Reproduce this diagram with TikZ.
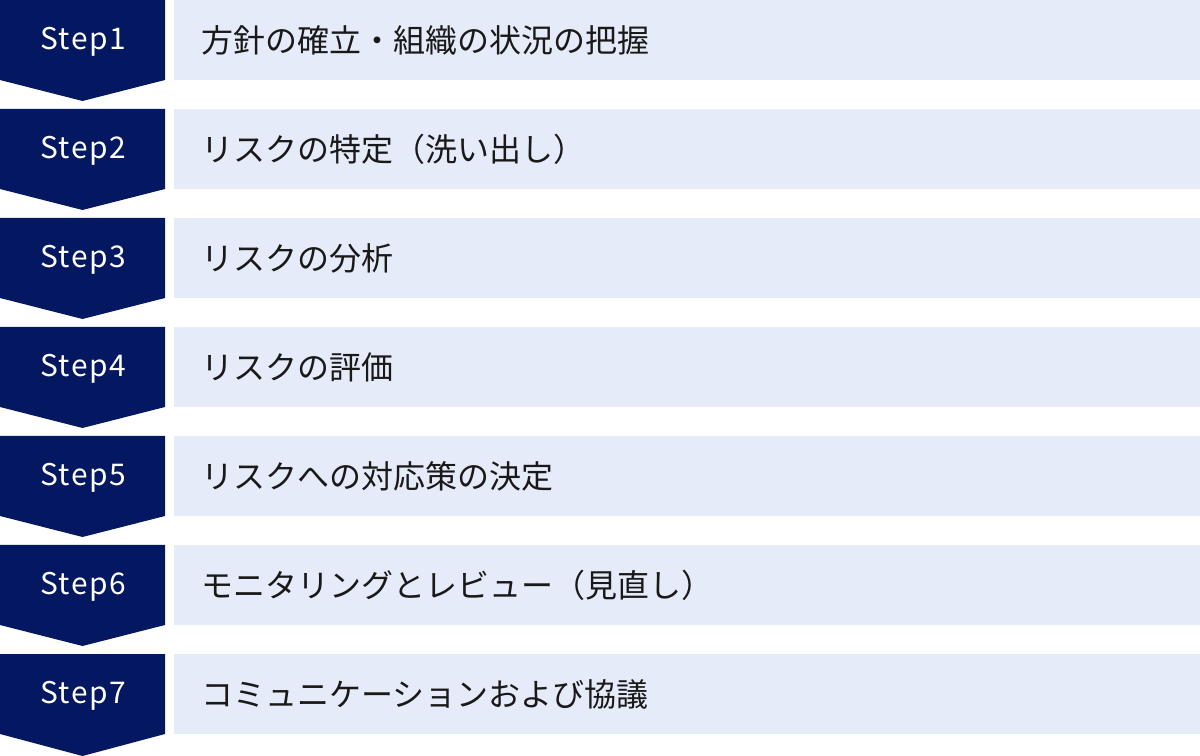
\documentclass[tikz,border=0pt]{standalone}
\usepackage{fontspec}
\newfontfamily\jpfont{Noto Sans CJK JP}
\newfontfamily\stepfont[LetterSpace=5]{Noto Sans CJK JP}
\usepackage{xcolor}
\definecolor{stepnavy}{HTML}{041862}
\definecolor{barblue}{HTML}{E5EBF8}

\begin{document}
\begin{tikzpicture}[x = 0.02cm, y = -0.02cm]
				    \tikzstyle{chevron}=[fill=stepnavy]
				    \tikzstyle{bar}=[fill=barblue]
				    \tikzstyle{steplabel}=[text=white,font=\stepfont\fontsize{17}{20}\selectfont]
				    \tikzstyle{item}=[anchor=west,inner sep=0pt,text=black!90,font=\jpfont\fontsize{18.2}{22}\selectfont]
				    \useasboundingbox (0,0) rectangle (1200,756);
				    \fill[chevron] (0,0) -- (165,0) -- (165,80) -- (82.5,101) -- (0,80) -- cycle;
				    \fill[chevron] (0,109) -- (165,109) -- (165,189) -- (82.5,210) -- (0,189) -- cycle;
				    \fill[chevron] (0,218) -- (165,218) -- (165,298) -- (82.5,319) -- (0,298) -- cycle;
				    \fill[chevron] (0,327) -- (165,327) -- (165,407) -- (82.5,428) -- (0,407) -- cycle;
				    \fill[chevron] (0,436) -- (165,436) -- (165,516) -- (82.5,537) -- (0,516) -- cycle;
				    \fill[chevron] (0,545) -- (165,545) -- (165,625) -- (82.5,646) -- (0,625) -- cycle;
				    \fill[chevron] (0,654) -- (165,654) -- (165,734) -- (82.5,756) -- (0,734) -- cycle;
				    \fill[bar] (174,0) rectangle (1200,80);
				    \fill[bar] (174,109) rectangle (1200,189);
				    \fill[bar] (174,218) rectangle (1200,298);
				    \fill[bar] (174,327) rectangle (1200,407);
				    \fill[bar] (174,436) rectangle (1200,516);
				    \fill[bar] (174,545) rectangle (1200,625);
				    \fill[bar] (174,654) rectangle (1200,734);
				    \node[steplabel] (s1) at (83,42) {Step1};
				    \node[steplabel] (s2) at (83,151) {Step2};
				    \node[steplabel] (s3) at (83,260) {Step3};
				    \node[steplabel] (s4) at (83,369) {Step4};
				    \node[steplabel] (s5) at (83,478) {Step5};
				    \node[steplabel] (s6) at (83,587) {Step6};
				    \node[steplabel] (s7) at (83,696) {Step7};
				    \node[item] (i1) at (201,40) {方針の確立・組織の状況の把握};
				    \node[item] (i2) at (201,149) {リスクの特定（洗い出し）};
				    \node[item] (i3) at (201,258) {リスクの分析};
				    \node[item] (i4) at (201,367) {リスクの評価};
				    \node[item] (i5) at (201,476) {リスクへの対応策の決定};
				    \node[item] (i6) at (201,585) {モニタリングとレビュー（見直し）};
				    \node[item] (i7) at (201,694) {コミュニケーションおよび協議};
				\end{tikzpicture}
\end{document}
